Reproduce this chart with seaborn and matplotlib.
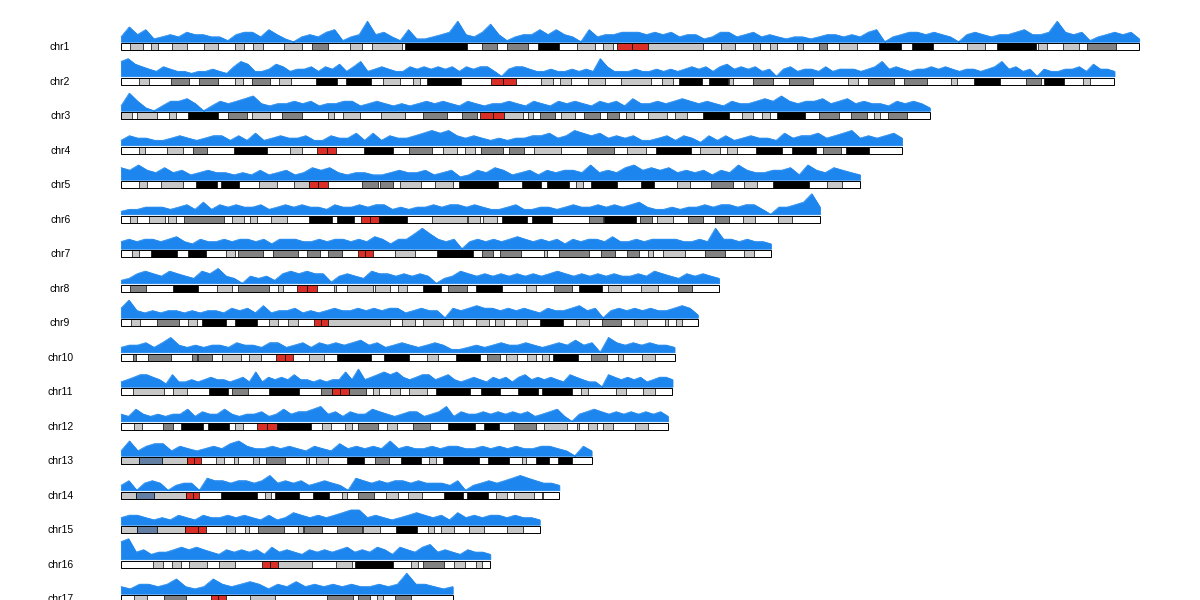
#!/usr/bin/python

# Karyotype-style plot: cytoband ideograms with a density track above each chromosome
import numpy as np
import pandas as pd
import seaborn as sns
import matplotlib
matplotlib.use('Agg')
import matplotlib.pyplot as plt
from matplotlib.patches import Rectangle

####################################################################################################
# Data (positions in Mb, hg19)
####################################################################################################
CHROM_NAMES = ['chr1', 'chr2', 'chr3', 'chr4', 'chr5', 'chr6', 'chr7', 'chr8', 'chr9',
               'chr10', 'chr11', 'chr12', 'chr13', 'chr14', 'chr15', 'chr16', 'chr17']
CHROM_LENGTHS = [249.25, 243.2, 198.0, 191.2, 180.9, 171.1, 159.1, 146.4, 141.2,
                 135.5, 135.0, 133.9, 115.2, 107.3, 102.5, 90.4, 81.2]

# stain codes: l = light grey, m = dark grey, k = black, c = centromere, s = stalk
CHR1_BANDS = [(2.2, 5.3, 'l'), (7.3, 9.1, 'l'), (12.6, 16.2, 'l'), (20.3, 23.8, 'l'), (28.0, 30.2, 'l'),
              (32.4, 34.7, 'l'), (40.0, 44.2, 'l'), (46.7, 50.7, 'm'), (56.1, 58.9, 'l'), (61.4, 68.7, 'l'),
              (69.5, 84.8, 'k'), (88.4, 92.0, 'm'), (94.6, 99.6, 'm'), (102.2, 107.1, 'k'), (111.7, 116.0, 'l'),
              (117.9, 120.5, 'l'), (121.5, 125.0, 'c'), (125.0, 128.9, 'c'), (128.9, 142.5, 'l'),
              (147.0, 150.3, 'l'), (154.8, 156.4, 'l'), (158.9, 160.5, 'l'), (165.4, 167.0, 'l'),
              (170.9, 172.8, 'm'), (175.8, 180.2, 'l'), (185.6, 190.9, 'k'), (193.6, 198.7, 'k'),
              (207.2, 211.4, 'l'), (214.4, 224.0, 'k'), (224.4, 226.8, 'l'), (230.5, 234.6, 'l'),
              (236.5, 243.6, 'm')]
CHR2_BANDS = [(4.5, 6.9, 'l'), (12.2, 16.6, 'm'), (19.2, 23.8, 'm'), (28.0, 29.8, 'l'), (32.1, 36.5, 'm'),
              (38.6, 41.6, 'l'), (47.7, 52.8, 'k'), (55.1, 61.2, 'k'), (64.1, 68.3, 'l'), (71.6, 73.2, 'l'),
              (75.0, 83.2, 'k'), (90.5, 93.4, 'c'), (93.4, 96.7, 'c'), (102.7, 105.8, 'l'), (107.5, 110.2, 'l'),
              (114.4, 118.5, 'l'), (122.4, 129.7, 'l'), (132.5, 135.1, 'l'), (136.7, 142.2, 'k'),
              (144.0, 148.7, 'k'), (148.9, 149.9, 'l'), (154.8, 159.7, 'm'), (163.6, 169.5, 'm'),
              (178.0, 180.5, 'l'), (182.9, 189.3, 'm'), (191.7, 197.2, 'm'), (203.2, 204.7, 'l'),
              (208.8, 215.2, 'k'), (221.5, 225.2, 'm'), (225.9, 230.9, 'k'), (235.6, 237.2, 'l')]
CHR3_BANDS = [(0.0, 2.8, 'l'), (4.0, 8.7, 'l'), (11.8, 13.4, 'l'), (16.3, 23.8, 'k'), (26.3, 30.9, 'm'),
              (32.0, 36.5, 'l'), (39.3, 44.2, 'm'), (50.6, 52.2, 'l'), (54.4, 58.5, 'l'), (63.6, 69.5, 'l'),
              (74.0, 79.7, 'm'), (83.4, 87.1, 'm'), (87.9, 91.0, 'c'), (91.0, 93.8, 'c'), (93.8, 98.3, 'l'),
              (99.7, 100.9, 'l'), (102.6, 106.2, 'm'), (107.7, 111.1, 'l'), (113.3, 117.3, 'm'),
              (118.9, 121.9, 'm'), (123.6, 125.6, 'l'), (129.1, 133.6, 'l'), (135.6, 138.5, 'l'),
              (142.5, 148.8, 'k'), (151.9, 154.8, 'l'), (156.8, 158.9, 'l'), (160.5, 167.4, 'k'),
              (170.9, 175.8, 'm'), (178.7, 182.7, 'm'), (184.4, 185.8, 'l'), (187.8, 192.3, 'm')]
CHR4_BANDS = [(4.5, 5.9, 'l'), (11.2, 15.1, 'l'), (17.7, 21.1, 'm'), (27.7, 35.7, 'k'), (41.4, 44.2, 'l'),
              (48.1, 50.5, 'c'), (50.5, 52.6, 'c'), (59.5, 66.5, 'k'), (70.6, 76.2, 'm'), (78.9, 82.3, 'l'),
              (84.2, 86.7, 'l'), (88.1, 93.6, 'm'), (95.1, 98.7, 'm'), (101.1, 107.6, 'l'), (114.0, 120.7, 'm'),
              (123.8, 128.5, 'l'), (131.0, 139.5, 'k'), (141.7, 146.6, 'l'), (148.4, 150.9, 'l'),
              (155.4, 161.7, 'k'), (164.3, 170.1, 'k'), (171.9, 176.2, 'm'), (177.4, 183.1, 'k')]
CHR5_BANDS = [(4.5, 6.3, 'l'), (9.8, 15.1, 'l'), (18.4, 23.4, 'k'), (24.5, 29.0, 'k'), (33.9, 38.3, 'l'),
              (42.4, 46.1, 'l'), (46.1, 48.3, 'c'), (48.3, 50.6, 'c'), (58.9, 63.0, 'm'), (63.3, 66.7, 'm'),
              (68.3, 73.4, 'l'), (76.9, 81.3, 'l'), (82.7, 92.4, 'k'), (98.1, 102.8, 'k'), (104.4, 109.7, 'k'),
              (111.4, 113.0, 'l'), (115.1, 121.3, 'k'), (127.2, 130.5, 'k'), (136.2, 139.3, 'l'),
              (144.4, 149.7, 'm'), (152.6, 155.6, 'l'), (159.7, 168.4, 'k'), (172.8, 176.6, 'l')]
CHR6_BANDS = [(2.2, 4.0, 'l'), (6.9, 10.8, 'l'), (11.6, 13.5, 'l'), (15.4, 25.2, 'm'), (27.1, 30.1, 'l'),
              (31.6, 33.4, 'l'), (36.6, 40.6, 'l'), (46.1, 51.7, 'k'), (52.8, 57.0, 'k'), (58.7, 61.0, 'c'),
              (61.0, 63.2, 'c'), (63.2, 69.9, 'k'), (76.1, 84.6, 'l'), (85.0, 87.9, 'l'), (88.6, 92.0, 'l'),
              (93.2, 99.5, 'k'), (100.5, 105.6, 'k'), (114.6, 118.1, 'm'), (118.3, 126.0, 'k'),
              (127.1, 129.9, 'm'), (131.1, 135.2, 'l'), (138.9, 142.5, 'm'), (145.4, 148.9, 'm'),
              (152.3, 155.2, 'l'), (160.9, 164.2, 'l')]
CHR7_BANDS = [(2.8, 4.4, 'l'), (7.3, 13.8, 'k'), (16.5, 20.8, 'k'), (25.7, 27.9, 'l'), (28.7, 34.8, 'm'),
              (37.3, 43.3, 'm'), (45.5, 48.7, 'm'), (50.6, 54.0, 'm'), (57.9, 59.7, 'c'), (59.7, 61.6, 'c'),
              (67.1, 72.0, 'l'), (77.3, 86.2, 'k'), (88.3, 91.0, 'm'), (92.8, 97.9, 'm'), (103.6, 104.4, 'l'),
              (107.3, 114.5, 'm'), (117.4, 121.0, 'm'), (123.8, 126.8, 'm'), (129.1, 130.3, 'l'),
              (132.6, 138.1, 'l'), (143.0, 147.8, 'm'), (152.6, 155.0, 'l')]
CHR8_BANDS = [(2.2, 6.1, 'm'), (12.7, 18.9, 'k'), (23.4, 27.1, 'l'), (28.7, 36.3, 'm'), (38.4, 39.6, 'l'),
              (43.2, 45.6, 'c'), (45.6, 48.1, 'c'), (52.2, 52.6, 'l'), (55.4, 61.6, 'l'), (62.3, 65.8, 'l'),
              (67.9, 70.1, 'l'), (73.9, 78.3, 'k'), (80.1, 84.6, 'm'), (86.9, 93.2, 'k'), (99.1, 101.5, 'l'),
              (106.1, 110.3, 'm'), (112.1, 117.7, 'k'), (119.1, 122.3, 'l'), (127.2, 131.4, 'l'),
              (136.4, 139.9, 'm')]
CHR9_BANDS = [(2.4, 4.7, 'l'), (8.9, 14.2, 'm'), (16.5, 18.5, 'l'), (19.8, 25.7, 'k'), (27.9, 33.2, 'k'),
              (36.3, 38.5, 'l'), (41.0, 43.4, 'l'), (47.2, 49.0, 'c'), (49.0, 50.7, 'c'), (50.7, 65.9, 'l'),
              (68.7, 72.0, 'l'), (74.0, 78.9, 'l'), (81.2, 83.8, 'l'), (86.9, 90.2, 'l'), (91.6, 93.8, 'l'),
              (96.7, 99.3, 'l'), (102.6, 108.1, 'k'), (111.3, 114.6, 'l'), (117.7, 122.3, 'm'),
              (125.6, 128.7, 'l'), (133.2, 134.0, 'l'), (135.9, 137.3, 'l')]
CHR10_BANDS = [(3.0, 3.7, 'm'), (6.7, 12.2, 'm'), (17.3, 18.5, 'm'), (18.8, 22.3, 'm'), (24.7, 29.3, 'l'),
               (31.3, 34.3, 'l'), (37.9, 40.1, 'c'), (40.1, 42.2, 'c'), (46.1, 49.7, 'l'), (52.9, 61.1, 'k'),
               (64.4, 70.5, 'k'), (75.0, 77.7, 'l'), (82.0, 87.9, 'k'), (89.5, 92.8, 'm'), (94.2, 96.9, 'l'),
               (99.3, 101.6, 'l'), (103.0, 104.8, 'l'), (105.8, 111.8, 'k'), (115.1, 119.0, 'm'),
               (121.6, 122.9, 'l'), (127.5, 130.6, 'l')]
CHR11_BANDS = [(2.9, 10.6, 'l'), (12.7, 16.1, 'l'), (21.6, 26.1, 'k'), (27.2, 31.0, 'm'), (36.3, 43.6, 'k'),
               (48.9, 51.7, 'm'), (51.7, 53.6, 'c'), (53.6, 55.7, 'c'), (55.7, 59.9, 'm'), (61.6, 63.2, 'l'),
               (65.9, 68.3, 'l'), (70.6, 74.8, 'l'), (77.0, 85.4, 'k'), (88.1, 92.8, 'k'), (97.1, 102.0, 'k'),
               (103.0, 110.3, 'k'), (112.5, 114.4, 'l'), (121.1, 123.6, 'l'), (127.7, 130.7, 'l')]
CHR12_BANDS = [(3.2, 5.1, 'l'), (10.2, 12.7, 'm'), (14.7, 20.1, 'k'), (21.2, 26.5, 'k'), (27.9, 29.9, 'l'),
               (33.2, 35.8, 'c'), (35.8, 38.1, 'c'), (38.1, 46.4, 'k'), (49.1, 51.3, 'l'), (54.8, 56.5, 'l'),
               (58.1, 63.0, 'm'), (65.2, 67.5, 'l'), (71.4, 75.6, 'm'), (80.1, 86.7, 'k'), (88.9, 92.6, 'k'),
               (96.2, 101.5, 'm'), (103.6, 109.1, 'l'), (111.6, 112.0, 'l'), (114.2, 116.6, 'l'),
               (118.1, 120.5, 'l'), (125.8, 129.1, 'l')]
CHR13_BANDS = [(0.0, 4.5, 'l'), (4.5, 10.0, 's'), (10.0, 16.2, 'l'), (16.2, 17.9, 'c'), (17.9, 19.5, 'c'),
               (23.3, 25.3, 'l'), (27.7, 28.7, 'l'), (32.2, 33.9, 'l'), (35.5, 40.1, 'm'), (45.3, 46.1, 'l'),
               (47.7, 50.7, 'l'), (55.3, 59.6, 'k'), (62.3, 65.7, 'm'), (68.5, 73.4, 'k'), (75.4, 77.1, 'l'),
               (78.9, 87.7, 'k'), (89.9, 95.1, 'k'), (98.1, 99.1, 'l'), (101.5, 104.8, 'k'), (106.9, 110.3, 'k')]
CHR14_BANDS = [(0.0, 3.7, 'l'), (3.7, 8.2, 's'), (8.2, 15.9, 'l'), (15.9, 17.7, 'c'), (17.7, 19.1, 'c'),
               (24.5, 33.4, 'k'), (35.3, 36.6, 'l'), (37.7, 43.6, 'k'), (47.1, 51.0, 'k'), (54.0, 55.4, 'l'),
               (58.1, 62.0, 'm'), (64.8, 67.9, 'l'), (70.2, 73.8, 'l'), (79.1, 83.6, 'k'), (84.8, 89.8, 'k'),
               (91.8, 94.6, 'l'), (96.3, 101.2, 'l'), (103.0, 103.4, 'l')]
CHR15_BANDS = [(0.0, 3.8, 'l'), (3.8, 8.7, 's'), (8.7, 15.7, 'l'), (15.7, 18.9, 'c'), (18.9, 20.8, 'c'),
               (25.7, 27.9, 'l'), (30.4, 31.3, 'l'), (33.6, 39.9, 'm'), (43.3, 44.6, 'l'), (44.8, 49.1, 'm'),
               (52.9, 59.1, 'm'), (59.3, 63.4, 'l'), (67.2, 72.4, 'k'), (75.1, 76.5, 'l'), (78.3, 81.5, 'l'),
               (85.3, 88.9, 'l'), (94.4, 98.5, 'l')]
CHR16_BANDS = [(7.8, 10.4, 'l'), (12.6, 14.7, 'l'), (16.7, 21.0, 'l'), (24.1, 27.9, 'l'), (34.6, 36.5, 'c'),
               (36.5, 38.5, 'c'), (38.5, 46.8, 'l'), (52.6, 56.6, 'l'), (57.3, 66.7, 'k'), (70.9, 72.8, 'l'),
               (74.0, 79.1, 'm'), (81.6, 84.2, 'l'), (86.9, 88.4, 'l')]
CHR17_BANDS = [(3.3, 6.3, 'l'), (10.6, 15.9, 'm'), (22.0, 23.8, 'c'), (23.8, 25.7, 'c'), (31.6, 37.7, 'l'),
               (50.4, 56.9, 'm'), (58.1, 61.0, 'm'), (62.6, 64.2, 'l'), (67.1, 71.0, 'm')]

# density track, one digit (0-9) per ~2 Mb window
CHR1_DENSITY = ("37462 34354433 1 455 36 42 0 3435 6 1 34 9 453 1 62 2345 9 435 8 4 1 344 6 4 6 43 0 6 3445 55 "
                "454 5 34 4 23 55 34 5 3 4 323 3 234 434 35 6 0 34 5 5 4 5 43 0 4 5 434 45 6 445 9 5 4 5 1 345 452")
CHR2_DENSITY = ("7865 4354 3323 3432 5763 3465 3445 3546 3573 4543 3545 4545 3545 5304 5543 3433 4343 8533 "
                "3433 4343 4545 3564 5453 4045 3443 5344 4345 7454 3445 4543 4434 5745 3404 3344 5364 43")
CHR3_DENSITY = ("3852 0355 6403 5456 7434 4545 3445 5345 4343 4545 4354 3445 4354 3545 4354 5364 4545 6545 "
                "4354 4565 7545 5645 6454 4354 542")
CHR4_DENSITY = ("3544 3345 4345 5353 6345 4453 3544 6363 5445 6767 5454 3434 4556 4576 5645 4533 4535 4253 "
                "5345 4436 4556 4567 4545 64")
CHR5_DENSITY = ("6575 4645 3454 4343 5345 3465 6434 4334 5445 3452 3546 5345 3545 5474 5467 5656 4545 3547 "
                "5445 5637 5465 43")
CHR6_DENSITY = ("2334 4434 5363 5454 4534 5454 4354 4545 5343 4454 5545 4334 5334 4345 4454 5456 4334 3445 "
                "4554 5530 4456 94")
CHR7_DENSITY = ("4545 5456 4354 4545 5453 5554 4545 5454 6535 5797 5450 4545 4565 4545 3545 5464 4545 5554 "
                "4549 5545 443")
CHR8_DENSITY = ("2356 5465 4365 7430 4342 5656 5514 5436 5545 4540 3465 4545 4545 4565 4545 4544 5465 4354 543")
CHR9_DENSITY = ("5843 4344 3434 4354 5363 4453 4345 4454 5455 3454 4054 5655 4545 4354 4564 5045 4545 4456 52")
CHR10_DENSITY = ("3445 3574 3434 4354 4355 3453 5454 5645 3454 3454 2234 3454 4543 4546 4507 5454 5443")
CHR11_DENSITY = ("3456 6542 6334 3454 4345 3735 4546 4434 3447 4845 6767 5456 6456 4345 4354 5356 4545 4365 "
                 "4330 6545 4534 554")
CHR12_DENSITY = ("4364 3434 4635 4464 3445 3464 5567 4535 4465 4345 5345 7354 4545 4545 3456 3045 6545 4545 453")
CHR13_DENSITY = ("3735 6635 4345 4675 4454 5435 4364 5454 7454 4545 5445 4545 4455 4305 3")
CHR14_DENSITY = ("3504 5403 4406 5545 5457 4545 3454 3065 4545 5454 4435 0345 4567 6544 3")
CHR15_DENSITY = ("4554 3435 4354 4545 4353 4654 5456 7745 4345 6545 3645 4554 5443")
CHR16_DENSITY = ("8945 3445 6565 4354 5453 6454 3545 4564 5465 3654 6745 4354 43")
CHR17_DENSITY = ("4355 4574 3475 4565 3546 4545 4544 5459 5543 4")

ALL_BANDS = [CHR1_BANDS, CHR2_BANDS, CHR3_BANDS, CHR4_BANDS, CHR5_BANDS, CHR6_BANDS, CHR7_BANDS,
             CHR8_BANDS, CHR9_BANDS, CHR10_BANDS, CHR11_BANDS, CHR12_BANDS, CHR13_BANDS, CHR14_BANDS,
             CHR15_BANDS, CHR16_BANDS, CHR17_BANDS]
ALL_DENSITY = [CHR1_DENSITY, CHR2_DENSITY, CHR3_DENSITY, CHR4_DENSITY, CHR5_DENSITY, CHR6_DENSITY,
               CHR7_DENSITY, CHR8_DENSITY, CHR9_DENSITY, CHR10_DENSITY, CHR11_DENSITY, CHR12_DENSITY,
               CHR13_DENSITY, CHR14_DENSITY, CHR15_DENSITY, CHR16_DENSITY, CHR17_DENSITY]

STAIN_COLORS = {'l': '#C8C8C8', 'm': '#828282', 'k': '#000000', 'c': '#D92F27', 's': '#647FA4'}
DENSITY_COLOR = '#1C86EE'

####################################################################################################
# Layout (in pixels of the 1200x600 canvas)
####################################################################################################
PX_PER_MB = 4.085
X0_PX = 121.0
ROW_PX = 34.5
IDEO_TOP_PX = 43.3
IDEO_H_PX = 7.0
DENS_GAP_PX = 1.6
DENS_H_PX = 20.5
DENS_GAMMA = 1.3    # contrast of the density levels

sns.set_theme(style='white')
plt.rcParams['font.family'] = ['Liberation Sans', 'DejaVu Sans']

fig = plt.figure(figsize=(12, 6), dpi=100)
ax = fig.add_axes([0, 0, 1, 1])

# Build the density table for seaborn
rows = []
for k, (name, length, dens) in enumerate(zip(CHROM_NAMES, CHROM_LENGTHS, ALL_DENSITY)):
    vals = np.array([int(c) for c in dens.replace(' ', '')], dtype=float)
    pos = np.linspace(0, length, len(vals))
    base = IDEO_TOP_PX + k * ROW_PX - DENS_GAP_PX
    top = base - DENS_H_PX * (vals / 9.0) ** DENS_GAMMA
    for p, t in zip(pos, top):
        rows.append((name, p, t, base))
dens_df = pd.DataFrame(rows, columns=['chrom', 'pos', 'top', 'base'])

# Density areas
for name, sub in dens_df.groupby('chrom', sort=False):
    ax.fill_between(sub['pos'], sub['base'], sub['top'], color=DENSITY_COLOR, lw=0.6,
                    edgecolor=DENSITY_COLOR)
sns.lineplot(data=dens_df, x='pos', y='top', units='chrom', estimator=None, sort=False,
             color=DENSITY_COLOR, lw=0.5, legend=False, ax=ax)

# Ideograms
for k, (name, length, bands) in enumerate(zip(CHROM_NAMES, CHROM_LENGTHS, ALL_BANDS)):
    top = IDEO_TOP_PX + k * ROW_PX
    ax.add_patch(Rectangle((0, top), length, IDEO_H_PX, facecolor='white', edgecolor='none', zorder=2))
    for start, end, stain in bands:
        ax.add_patch(Rectangle((start, top), end - start, IDEO_H_PX, facecolor=STAIN_COLORS[stain],
                               edgecolor='black', lw=0.5, zorder=3))
    ax.add_patch(Rectangle((0, top), length, IDEO_H_PX, fill=False, edgecolor='black', lw=0.7, zorder=4))
    ax.text(-14.9, top + IDEO_H_PX / 2 + 0.5, name, ha='center', va='center', fontsize=7.5, color='black')

ax.set_xlim(-X0_PX / PX_PER_MB, (1200 - X0_PX) / PX_PER_MB)
ax.set_ylim(600, 0)
ax.set_axis_off()

fig.savefig('out.png', dpi=100)
plt.close(fig)
